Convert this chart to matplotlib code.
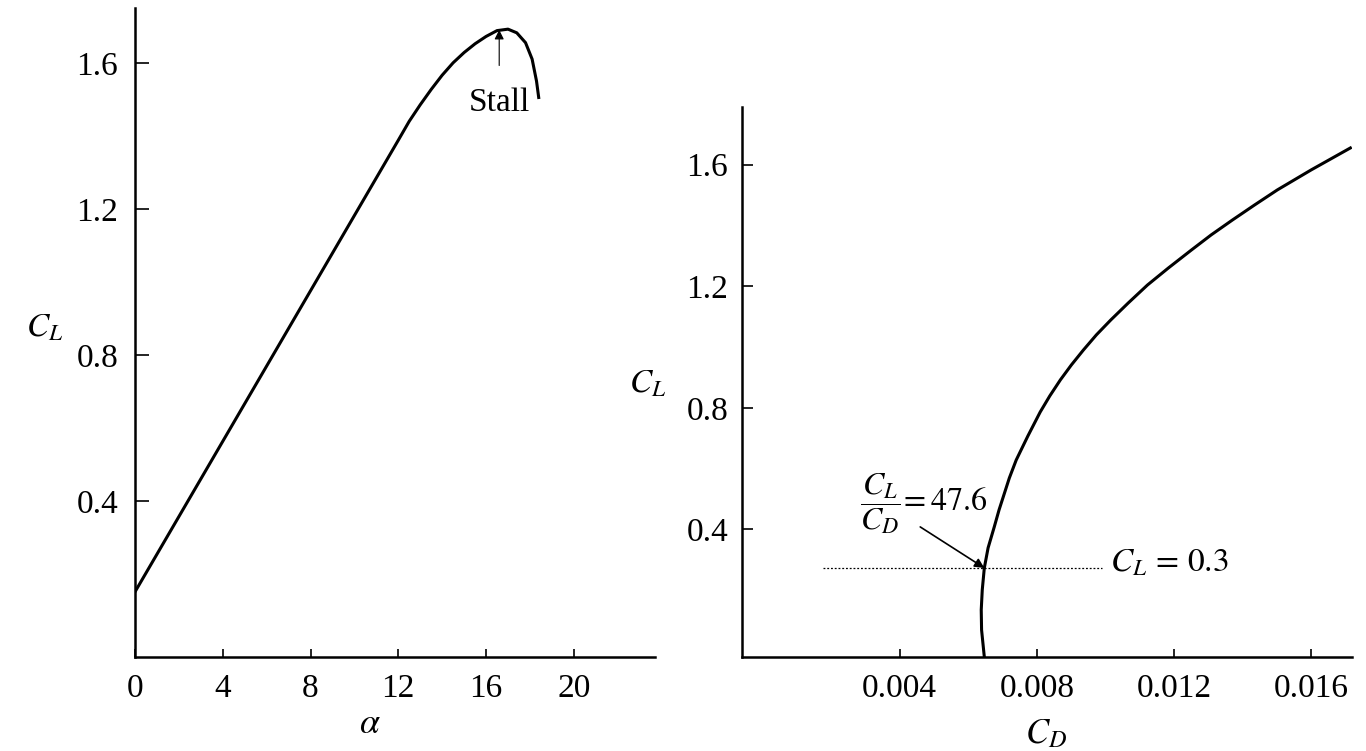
import matplotlib
matplotlib.use("Agg")
import matplotlib.pyplot as plt

# Lift curve (left panel)
alpha = [0, 2, 4, 6, 8, 10, 12, 12.5, 13, 13.5, 14, 14.5, 15, 15.5, 16, 16.5, 17, 17.4,
         17.8, 18.1, 18.3, 18.4]
cl_alpha = [0.152, 0.358, 0.564, 0.770, 0.976, 1.182, 1.388, 1.44, 1.485, 1.527, 1.566,
            1.60, 1.628, 1.652, 1.672, 1.688, 1.692, 1.682, 1.655, 1.61, 1.55, 1.505]
alpha_ticks = [0, 4, 8, 12, 16, 20]
cl_ticks = [0.4, 0.8, 1.2, 1.6]

# Drag polar (right panel)
cl_polar = [-0.020, 0.069, 0.135, 0.201, 0.273, 0.339, 0.408, 0.464, 0.513, 0.569, 0.628,
            0.707, 0.786, 0.839, 0.892, 0.941, 0.990, 1.040, 1.089, 1.145, 1.204, 1.260,
            1.319, 1.369, 1.418, 1.467, 1.517, 1.583, 1.655]
cd_polar = [0.00647, 0.00639, 0.00638, 0.00641, 0.00647, 0.00658, 0.00676, 0.00690, 0.00704,
            0.00720, 0.00740, 0.00774, 0.00810, 0.00838, 0.00869, 0.00901, 0.00936, 0.00974,
            0.01016, 0.01067, 0.01123, 0.01184, 0.01251, 0.01309, 0.01371, 0.01435, 0.01502,
            0.01601, 0.01715]
cd_ticks = [0.004, 0.008, 0.012, 0.016]
cd_tick_labels = ["0.004", "0.008", "0.012", "0.016"]

# annotation values
stall_alpha = 16.6
stall_cl = 1.69
design_cl = 0.273
design_cd = 0.00647

plt.rcParams['font.family'] = ['Liberation Serif', 'DejaVu Serif']
plt.rcParams['mathtext.fontset'] = 'stix'

fig = plt.figure(figsize=(13.66, 7.51), dpi=100)
ax1 = fig.add_axes([0.0988, 0.1252, 0.3807, 0.8642])
ax2 = fig.add_axes([0.5432, 0.1252, 0.4466, 0.7324])

for ax in (ax1, ax2):
    for s in ('top', 'right'):
        ax.spines[s].set_visible(False)
    for s in ('left', 'bottom'):
        ax.spines[s].set_linewidth(1.8)
    ax.tick_params(direction='in', labelsize=24, width=1.2)

# left
ax1.plot(alpha, cl_alpha, color='black', lw=2.2)
ax1.set_xlim(0, 23.7)
ax1.set_ylim(-0.026, 1.75)
ax1.set_xticks(alpha_ticks)
ax1.set_yticks(cl_ticks)
ax1.set_yticklabels([f"{v:.1f}" for v in cl_ticks])
ax1.tick_params(axis='y', length=10, pad=12)
ax1.tick_params(axis='x', length=6, pad=12)
ax1.set_ylabel('$C_L$', rotation=0, fontsize=24, va='center', ha='center')
ax1.yaxis.set_label_coords(-0.173, 0.507)
ax1.set_xlabel(r'$\alpha$', fontsize=26)
ax1.xaxis.set_label_coords(0.452, -0.079)
ax1.annotate('Stall', xy=(stall_alpha, stall_cl), xytext=(stall_alpha, 1.49),
             ha='center', va='center', fontsize=24,
             arrowprops=dict(arrowstyle='-|>', color='black', lw=0.8,
                             mutation_scale=14, shrinkA=14, shrinkB=0))

# right
ax2.plot(cd_polar, cl_polar, color='black', lw=2.2)
ax2.set_xlim(-0.0006, 0.0172)
ax2.set_ylim(-0.02, 1.79)
ax2.set_xticks(cd_ticks)
ax2.set_xticklabels(cd_tick_labels)
ax2.set_yticks(cl_ticks)
ax2.set_yticklabels([f"{v:.1f}" for v in cl_ticks])
ax2.tick_params(axis='y', length=8, pad=10)
ax2.tick_params(axis='x', length=6, pad=12)
ax2.set_ylabel('$C_L$', rotation=0, fontsize=24, va='center', ha='center')
ax2.yaxis.set_label_coords(-0.155, 0.495)
ax2.set_xlabel('$C_D$', fontsize=25)
ax2.xaxis.set_label_coords(0.498, -0.112)

ax2.hlines(design_cl, 0.00177, 0.00991, color='black', lw=0.9, linestyles=(0, (1.5, 1.5)))
ax2.text(0.01014, 0.29, r'$C_L\,=\,0.3$', fontsize=24, ha='left', va='center')
ax2.text(0.00285, 0.485, r'$\dfrac{C_L}{C_D}\!= 47.6$', fontsize=23, ha='left', va='center')
ax2.annotate('', xy=(design_cd, design_cl), xytext=(0.0046, 0.408),
             arrowprops=dict(arrowstyle='-|>', color='black', lw=1.2,
                             mutation_scale=14, shrinkA=0, shrinkB=0))

fig.savefig('out.png', dpi=100)
